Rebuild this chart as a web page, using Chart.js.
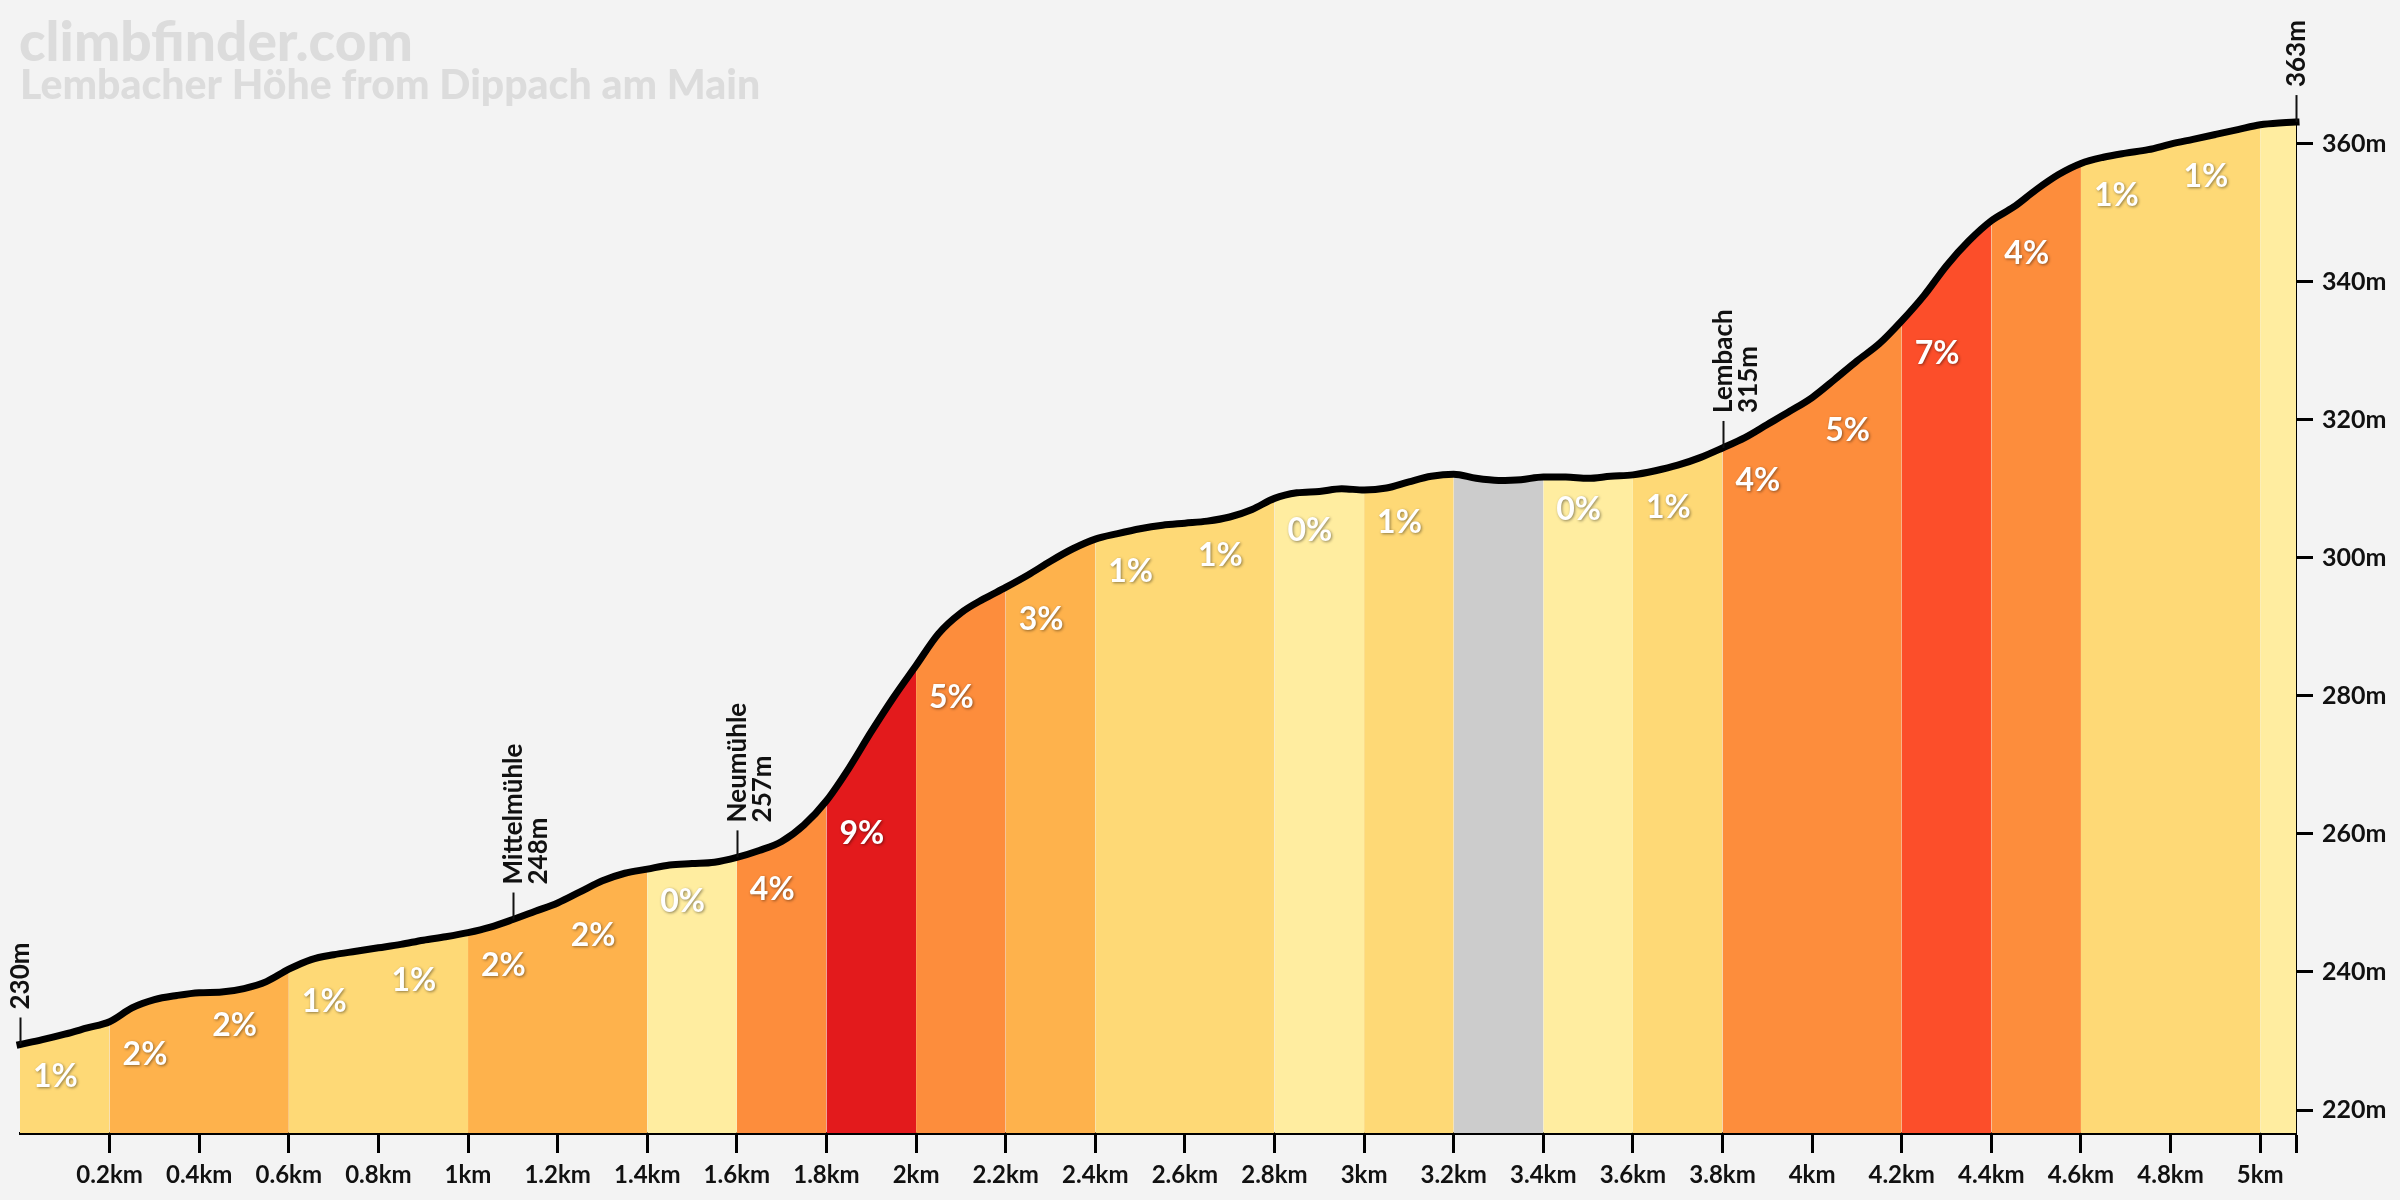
<!DOCTYPE html>
<html><head><meta charset="utf-8">
<script src="https://cdn.jsdelivr.net/npm/chart.js@4.4.1/dist/chart.umd.min.js"></script>
<style>html,body{margin:0;padding:0;background:#f3f3f3;}#wrap{width:2400px;height:1200px;}</style>
</head><body><div id="wrap"><canvas id="c" width="2400" height="1200"></canvas></div>
<script>
const titleText = 'climbfinder.com';
const subtitleText = 'Lembacher Höhe from Dippach am Main';

const distKm = [0.00,0.05,0.10,0.15,0.20,0.25,0.30,0.35,0.40,0.45,0.50,0.55,0.60,0.65,0.70,0.75,0.80,0.85,0.90,0.95,
  1.00,1.05,1.10,1.15,1.20,1.25,1.30,1.35,1.40,1.45,1.50,1.55,1.60,1.65,1.70,1.75,1.80,1.85,1.90,1.95,
  2.00,2.05,2.10,2.15,2.20,2.25,2.30,2.35,2.40,2.45,2.50,2.55,2.60,2.65,2.70,2.75,2.80,2.85,2.90,2.95,
  3.00,3.05,3.10,3.15,3.20,3.25,3.30,3.35,3.40,3.45,3.50,3.55,3.60,3.65,3.70,3.75,3.80,3.85,3.90,3.95,
  4.00,4.05,4.10,4.15,4.20,4.25,4.30,4.35,4.40,4.45,4.50,4.55,4.60,4.65,4.70,4.75,4.80,4.85,4.90,4.95,
  5.00,5.05,5.08];
const elevM = [229.5,230.2,231.0,231.9,232.8,234.8,236.0,236.6,237.0,237.1,237.6,238.6,240.4,241.8,242.5,243.0,243.5,244.0,244.6,245.1,
  245.7,246.5,247.6,248.8,250.0,251.6,253.2,254.3,254.9,255.5,255.7,255.9,256.6,257.6,258.9,261.3,264.8,269.5,274.8,279.8,
  284.4,289.0,292.0,294.0,295.7,297.5,299.5,301.3,302.7,303.5,304.2,304.7,305.0,305.3,305.9,307.0,308.6,309.4,309.6,310.0,
  309.8,310.1,311.0,311.8,312.1,311.5,311.2,311.3,311.7,311.7,311.5,311.8,312.0,312.6,313.4,314.5,315.9,317.4,319.3,321.2,
  323.2,325.8,328.5,331.0,334.3,338.0,342.3,345.9,348.8,350.8,353.3,355.5,357.1,358.0,358.6,359.1,359.9,360.6,361.3,362.0,
  362.7,363.0,363.1];

const bandEdgesKm = [0,0.2,0.4,0.6,0.8,1.0,1.2,1.4,1.6,1.8,2.0,2.2,2.4,2.6,2.8,3.0,3.2,3.4,3.6,3.8,4.0,4.2,4.4,4.6,4.8,5.0,5.08];
const bandGrades = [1,2,2,1,1,2,2,0,4,9,5,3,1,1,0,1,-1,0,1,4,5,7,4,1,1,0];
const bandLabels = ['1%','2%','2%','1%','1%','2%','2%','0%','4%','9%','5%','3%','1%','1%','0%','1%','','0%','1%','4%','5%','7%','4%','1%','1%',''];

const xTickValues = [0.2,0.4,0.6,0.8,1.0,1.2,1.4,1.6,1.8,2.0,2.2,2.4,2.6,2.8,3.0,3.2,3.4,3.6,3.8,4.0,4.2,4.4,4.6,4.8,5.0,5.08];
const xTickLabels = ['0.2km','0.4km','0.6km','0.8km','1km','1.2km','1.4km','1.6km','1.8km','2km','2.2km','2.4km','2.6km','2.8km','3km','3.2km','3.4km','3.6km','3.8km','4km','4.2km','4.4km','4.6km','4.8km','5km',''];
const yTickValues = [220,240,260,280,300,320,340,360];
const yTickLabels = ['220m','240m','260m','280m','300m','320m','340m','360m'];

const waypointKm = [0,1.1,1.6,3.8,5.08];
const waypointNames = ['','Mittelmühle','Neumühle','Lembach',''];
const waypointElevLabels = ['230m','248m','257m','315m','363m'];

function gradeColor(g){
  if(g<0) return '#cccccc';
  if(g<1) return '#ffeda0';
  if(g<2) return '#fed976';
  if(g<4) return '#feb24c';
  if(g<6) return '#fd8d3c';
  if(g<8) return '#fc4e2a';
  return '#e31a1c';
}
function bandIndex(km){
  let i=0;
  while(i<bandEdgesKm.length-2 && km>=bandEdgesKm[i+1]-1e-9) i++;
  return i;
}
function elevAt(km){
  for(let i=0;i<distKm.length-1;i++){
    if(km>=distKm[i]-1e-9 && km<=distKm[i+1]+1e-9){
      const t=(km-distKm[i])/(distKm[i+1]-distKm[i]);
      return elevM[i]+t*(elevM[i+1]-elevM[i]);
    }
  }
  return elevM[elevM.length-1];
}

const points = distKm.map((d,i)=>({x:d,y:elevM[i]}));
const FONT = 'Lato, "Open Sans", sans-serif';

const bgPlugin = {
  id:'bg',
  beforeDraw(chart){
    const {ctx,width,height}=chart;
    ctx.save();
    ctx.fillStyle='#f3f3f3';
    ctx.fillRect(0,0,width,height);
    ctx.fillStyle='#dcdcdc';
    ctx.textAlign='left';ctx.textBaseline='alphabetic';
    ctx.font='900 55px '+FONT;
    ctx.fillText(titleText,19,61);
    ctx.font='900 41px '+FONT;
    ctx.fillText(subtitleText,20,99);
    ctx.restore();
  }
};

const labelPlugin = {
  id:'labels',
  afterDatasetsDraw(chart){
    const {ctx,scales:{x,y}}=chart;
    ctx.save();
    ctx.font='bold 32px '+FONT;
    ctx.fillStyle='#ffffff';
    ctx.textAlign='left';ctx.textBaseline='alphabetic';
    ctx.shadowColor='rgba(0,0,0,0.45)';ctx.shadowBlur=3;ctx.shadowOffsetX=1;ctx.shadowOffsetY=1;
    bandLabels.forEach((lab,i)=>{
      if(!lab) return;
      const km=bandEdgesKm[i];
      ctx.fillText(lab, x.getPixelForValue(km)+13, y.getPixelForValue(elevAt(km))+43);
    });
    ctx.restore();

    ctx.save();
    ctx.strokeStyle='#111';ctx.lineWidth=2;
    ctx.fillStyle='#111';
    waypointKm.forEach((km,i)=>{
      const px=Math.round(x.getPixelForValue(km))+0.5;
      const py=y.getPixelForValue(elevAt(km));
      ctx.beginPath();ctx.moveTo(px,py);ctx.lineTo(px,py-27);ctx.stroke();
      ctx.save();
      ctx.translate(px,py-35);
      ctx.rotate(-Math.PI/2);
      ctx.font='bold 26px '+FONT;
      ctx.textAlign='left';ctx.textBaseline='middle';
      if(waypointNames[i]){
        ctx.fillText(waypointNames[i],0,0);
        ctx.fillText(waypointElevLabels[i],0,25);
      } else {
        ctx.fillText(waypointElevLabels[i],0,0);
      }
      ctx.restore();
    });
    ctx.restore();
  }
};

new Chart(document.getElementById('c'),{
  type:'line',
  data:{
    datasets:[
      {
        label:'profile',
        data:points,
        borderColor:'#000',
        borderWidth:7,
        borderCapStyle:'square',
        borderJoinStyle:'round',
        pointRadius:0,
        fill:false,
        cubicInterpolationMode:'monotone',
        clip:false
      },
      {
        label:'gradient',
        data:points,
        borderWidth:0,
        borderColor:'rgba(0,0,0,0)',
        backgroundColor:'#fed976',
        pointRadius:0,
        fill:'start',
        cubicInterpolationMode:'monotone',
        segment:{
          backgroundColor: c => gradeColor(bandGrades[bandIndex(distKm[c.p0DataIndex])])
        }
      }
    ]
  },
  options:{
    responsive:false,
    animation:false,
    events:[],
    layout:{padding:{left:20,top:120,right:0,bottom:0}},
    plugins:{legend:{display:false},tooltip:{enabled:false},title:{display:false}},
    scales:{
      x:{
        type:'linear',
        position:'bottom',
        min:0,max:5.08,
        afterBuildTicks:s=>{s.ticks=xTickValues.map(v=>({value:v}));},
        afterFit:s=>{s.height=67;},
        ticks:{
          autoSkip:false,maxRotation:0,minRotation:0,padding:8,
          color:'#111',
          font:{family:FONT,size:24,weight:'bold'},
          callback:(v,i)=>xTickLabels[i]
        },
        grid:{drawOnChartArea:false,drawTicks:true,tickLength:20,tickWidth:3,tickColor:'#000'},
        border:{display:true,color:'#000',width:3}
      },
      y:{
        type:'linear',
        position:'right',
        min:216.68,max:363.4,
        afterBuildTicks:s=>{s.ticks=yTickValues.map(v=>({value:v}));},
        afterFit:s=>{s.width=104;},
        ticks:{
          padding:9,color:'#111',
          font:{family:FONT,size:25,weight:'bold'},
          callback:(v,i)=>yTickLabels[i]
        },
        grid:{drawOnChartArea:false,drawTicks:true,tickLength:17,tickWidth:3,tickColor:'#000'},
        border:{display:true,color:'#000',width:2}
      }
    }
  },
  plugins:[bgPlugin,labelPlugin]
});
</script></body></html>
